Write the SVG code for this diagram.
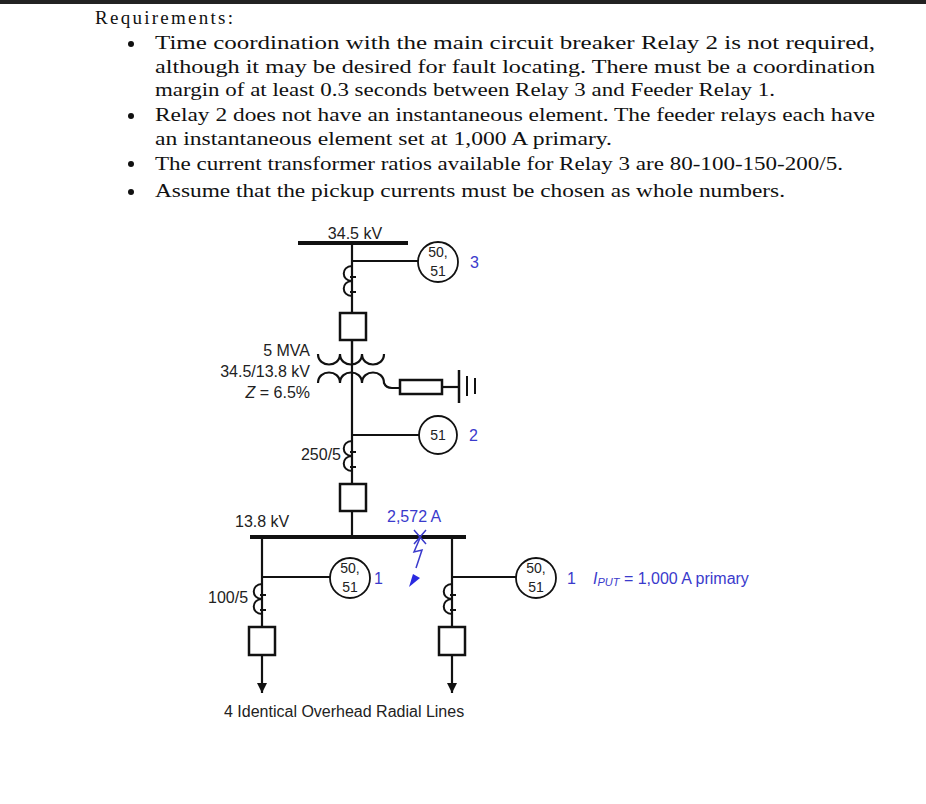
<svg xmlns="http://www.w3.org/2000/svg" width="926" height="804" viewBox="0 0 926 804">
<style>
.t{font-family:"Liberation Serif",serif;font-size:19px;fill:#111}
.s{font-family:"Liberation Sans",Arial,sans-serif;font-size:16px;fill:#222}
.b{font-family:"Liberation Sans",Arial,sans-serif;font-size:16px;fill:#3a3acc}
.r{font-family:"Liberation Sans",Arial,sans-serif;font-size:14px;fill:#222}
.w{stroke:#111;stroke-width:2.2;fill:none}
.bus{stroke:#111;stroke-width:4}
.box{stroke:#111;stroke-width:2.5;fill:#fff}
.c{stroke:#111;stroke-width:1.8;fill:#fff}
</style>
<defs>
<marker id="ar" viewBox="0 0 10 10" refX="10" refY="5" markerWidth="12" markerHeight="10" orient="auto" markerUnits="userSpaceOnUse"><path d="M0,0 L10,5 L0,10 Z" fill="#111"/></marker>
<g id="ct"><path d="M2,0 C-9,0 -9,15 2,15 M2,15 C-9,15 -9,30 2,30 M0,11 h6 M0,26 h6" stroke="#111" stroke-width="2" fill="none"/></g>
</defs>
<rect x="0" y="0" width="926" height="4" fill="#222"/>
<g id="text">
<text class="t" x="95" y="24" textLength="138">Requirements:</text>
<circle cx="131" cy="44" r="3" fill="#111"/>
<circle cx="131" cy="116" r="3" fill="#111"/>
<circle cx="131" cy="164" r="3" fill="#111"/>
<circle cx="131" cy="192" r="3" fill="#111"/>
<text class="t" x="155" y="49" textLength="720" lengthAdjust="spacingAndGlyphs">Time coordination with the main circuit breaker Relay 2 is not required,</text>
<text class="t" x="155" y="73" textLength="720" lengthAdjust="spacingAndGlyphs">although it may be desired for fault locating. There must be a coordination</text>
<text class="t" x="155" y="96" textLength="620" lengthAdjust="spacingAndGlyphs">margin of at least 0.3 seconds between Relay 3 and Feeder Relay 1.</text>
<text class="t" x="155" y="121" textLength="720" lengthAdjust="spacingAndGlyphs">Relay 2 does not have an instantaneous element. The feeder relays each have</text>
<text class="t" x="155" y="145" textLength="457" lengthAdjust="spacingAndGlyphs">an instantaneous element set at 1,000 A primary.</text>
<text class="t" x="155" y="170" textLength="688" lengthAdjust="spacingAndGlyphs">The current transformer ratios available for Relay 3 are 80-100-150-200/5.</text>
<text class="t" x="155" y="197" textLength="630" lengthAdjust="spacingAndGlyphs">Assume that the pickup currents must be chosen as whole numbers.</text>
</g>
<g id="connectors">
<line class="bus" x1="298" y1="243" x2="408" y2="243"/>
<line class="w" x1="352" y1="243" x2="352" y2="537"/>
<line class="w" x1="352" y1="261" x2="418" y2="261"/>
<line class="w" x1="352" y1="435" x2="419" y2="435"/>
<line class="bus" x1="250" y1="537" x2="466" y2="537"/>
<line class="w" x1="262" y1="537" x2="262" y2="693" marker-end="url(#ar)"/>
<line class="w" x1="452" y1="537" x2="452" y2="693" marker-end="url(#ar)"/>
<line class="w" x1="262" y1="577" x2="330" y2="577"/>
<line class="w" x1="452" y1="577" x2="516" y2="577"/>
<line class="w" x1="442" y1="387" x2="458" y2="387"/>
</g>
<g id="bus345"><text class="s" x="355" y="239" text-anchor="middle">34.5 kV</text></g>
<g id="ct3"><use href="#ct" x="350" y="266"/></g>
<g id="brk1"><rect class="box" x="340" y="313" width="26" height="27"/></g>
<g id="xfmr">
<path d="M318,354 c0,14 22,14 22,0 c0,14 22,14 22,0 c0,14 22,14 22,0" class="w" fill="#fff"/>
<path d="M318,383 c0,-14 22,-14 22,0 c0,-14 22,-14 22,0 c0,-14 22,-14 22,0 q2,5 8,5 h8" class="w"/>
<line class="w" x1="352" y1="340" x2="352" y2="364"/>
<text class="s" x="310" y="356" text-anchor="end">5 MVA</text>
<text class="s" x="310" y="377" text-anchor="end">34.5/13.8 kV</text>
<text class="s" x="310" y="398" text-anchor="end"><tspan font-style="italic">Z</tspan> = 6.5%</text>
</g>
<g id="ground">
<rect class="box" x="400" y="380" width="42" height="14" stroke-width="2"/>
<line x1="459" y1="370" x2="459" y2="403" stroke="#111" stroke-width="2.5"/>
<line x1="467" y1="376" x2="467" y2="396" stroke="#111" stroke-width="2"/>
<line x1="475" y1="378" x2="475" y2="394" stroke="#111" stroke-width="2"/>
</g>
<g id="relay3">
<circle class="c" cx="438" cy="262" r="20"/>
<text class="r" x="438" y="257" text-anchor="middle">50,</text>
<text class="r" x="438" y="276" text-anchor="middle">51</text>
<text class="b" x="470" y="268">3</text>
</g>
<g id="relay2">
<circle class="c" cx="438" cy="435" r="19"/>
<text class="r" x="438" y="440" text-anchor="middle">51</text>
<text class="b" x="469" y="441">2</text>
</g>
<g id="ct2"><use href="#ct" x="350" y="441"/><text class="s" x="341" y="460" text-anchor="end">250/5</text></g>
<g id="brk2"><rect class="box" x="340" y="484" width="26" height="27"/></g>
<g id="bus138">
<text class="s" x="235" y="527">13.8 kV</text>
<text class="b" x="387" y="522">2,572 A</text>
</g>
<g id="fault">
<path d="M414,530 l12,14 M426,530 l-12,14" stroke="#3a3acc" stroke-width="1.5"/>
<path d="M420,538 l-6,14 l8,-2 l-6,18" stroke="#3a3acc" stroke-width="1.5" fill="none"/>
<path d="M409,587 l4,-13 l7,4 Z" fill="#2a2ae0"/>
</g>
<g id="feederL">
<use href="#ct" x="260" y="584"/>
<text class="s" x="208" y="603">100/5</text>
<rect class="box" x="249" y="627" width="26" height="28"/>
<circle class="c" cx="350" cy="578" r="20"/>
<text class="r" x="350" y="573" text-anchor="middle">50,</text>
<text class="r" x="350" y="592" text-anchor="middle">51</text>
<text class="b" x="374" y="584">1</text>
</g>
<g id="feederR">
<use href="#ct" x="450" y="584"/>
<rect class="box" x="439" y="627" width="26" height="28"/>
<circle class="c" cx="536" cy="578" r="20"/>
<text class="r" x="536" y="573" text-anchor="middle">50,</text>
<text class="r" x="536" y="592" text-anchor="middle">51</text>
<text class="b" x="567" y="584">1</text>
<text class="b" x="593" y="584"><tspan font-style="italic">I</tspan><tspan font-style="italic" font-size="11" dy="2">PUT</tspan><tspan dy="-2"> = 1,000 A primary</tspan></text>
</g>
<g id="caption"><text class="s" x="224" y="717">4 Identical Overhead Radial Lines</text></g>
</svg>
